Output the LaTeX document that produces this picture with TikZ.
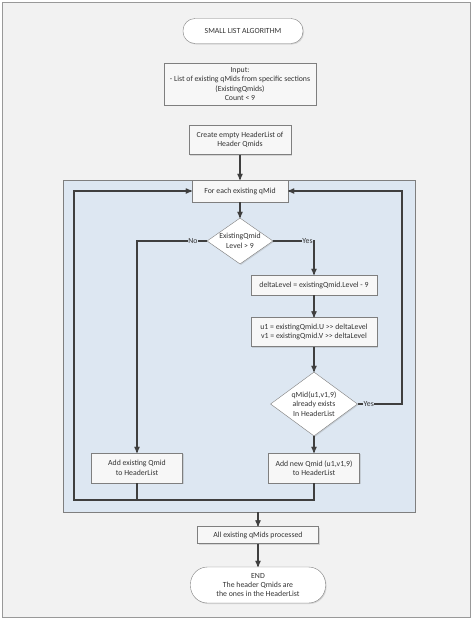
\documentclass[tikz,border=0pt]{standalone}
\usepackage{fontspec}
\setmainfont{Carlito}
\usepackage{xcolor}
\usepackage{tikz}
\usetikzlibrary{arrows}
\usetikzlibrary{positioning}
\usetikzlibrary{shapes.geometric}
\usetikzlibrary{shadows}

\definecolor{pagegray}{HTML}{F2F2F2}
\definecolor{loopblue}{HTML}{DDE7F2}
\definecolor{boxline}{HTML}{7F7F7F}
\definecolor{arrowgray}{HTML}{3F3F3F}

\begin{document}
\begin{tikzpicture}[x=1pt,y=-1pt,>=stealth',semithick]
 				 \tikzstyle{every node}=[font=\fontsize{7.8}{9.4}\selectfont, text=black!80]
 				 \tikzstyle{box}=[rectangle, draw=boxline, fill=white!97!black, thin, align=center, inner sep=1pt,
 				   drop shadow={shadow xshift=1pt, shadow yshift=-1pt, opacity=0.25}]
 				 \tikzstyle{term}=[box, rounded corners=12pt, fill=white]
 				 \tikzstyle{decision}=[diamond, draw=boxline, fill=white, thin, align=center, inner sep=0pt,
 				   drop shadow={shadow xshift=1pt, shadow yshift=-1pt, opacity=0.25}]
 				 \tikzstyle{flow}=[->, draw=arrowgray, line width=1.2pt]
 				 \tikzstyle{answer}=[fill=loopblue, inner sep=0.5pt, text=black!80]
 				 \useasboundingbox (0,0) rectangle (474,622);
 				 % page frame
 				 \draw[fill=pagegray, draw=black!40, line width=1pt] (2,2) rectangle (470,617);
 					 \node[term, minimum width=120pt, minimum height=25pt] (title) at (243,31) {SMALL LIST ALGORITHM};
 					 \node[box, minimum width=152pt, minimum height=42pt] (input) at (240,84)
 					   {Input:\\- List of existing qMids from specific sections\\(ExistingQmids)\\Count < 9};
 					 \node[box, minimum width=102pt, minimum height=29pt] (create) at (240,140)
 					   {Create empty HeaderList of\\Header Qmids};
 					 % loop region
 					 \node[rectangle, draw=boxline, fill=loopblue, thin, minimum width=352pt, minimum height=332pt,
 					   drop shadow={shadow xshift=1pt, shadow yshift=-1pt, opacity=0.25}] (loop) at (239,346) {};
 					 \node[box, minimum width=96pt, minimum height=22pt] (foreach) at (240,191) {For each existing qMid};
 					 \node[decision, aspect=1.45, minimum width=66pt, minimum height=46pt] (dec1) at (240,241)
 					   {ExistingQmid\\Level > 9};
 					 \node[box, minimum width=126pt, minimum height=20pt] (delta) at (314,285)
 					   {deltaLevel = existingQmid.Level - 9};
 					 \node[box, minimum width=126pt, minimum height=29pt] (uv) at (314,332)
 					   {u1 = existingQmid.U {>}{>} deltaLevel\\v1 = existingQmid.V {>}{>} deltaLevel};
 					 \node[decision, aspect=1.36, minimum width=87pt, minimum height=64pt] (dec2) at (314,404)
 					   {qMid(u1,v1,9)\\already exists\\In HeaderList};
 					 \node[box, minimum width=91pt, minimum height=30pt] (addold) at (137,468)
 					   {Add existing Qmid\\to HeaderList};
 					 \node[box, minimum width=91pt, minimum height=30pt] (addnew) at (314,468)
 					   {Add new Qmid (u1,v1,9)\\to HeaderList};
 					 \node[box, minimum width=121pt, minimum height=17pt] (done) at (258,535)
 					   {All existing qMids processed};
 					 \node[term, rounded corners=17pt, minimum width=135pt, minimum height=36pt] (finish) at (258,585)
 					   {END\\The header Qmids are\\the ones in the HeaderList};
 					 \coordinate (rloop) at (402,191);
 					 \coordinate (lloop) at (74,500);
 					  \path[flow]
 					  (create) edge (foreach)
 					  (foreach) edge (dec1)
 					  (delta) edge (uv)
 					  (uv) edge (dec2)
 					  (dec2) edge (addnew)
 					  (done) edge (finish);
 					  \draw[flow] (dec1.west) -| node[answer, pos=0.1] {No} (addold.north);
 					  \draw[flow] (dec1.east) -| node[answer, pos=0.42] {Yes} (delta.north);
 					  \draw[flow] (dec2.east) -- node[answer, pos=0.25] {Yes} (dec2.east -| rloop) -- (rloop) -- (foreach.east);
 					  \draw[flow, -] (addold.south) -- (addold.south |- lloop);
 					  \draw[flow] (addnew.south) |- (lloop) |- (foreach.west);
 					  \draw[flow] (loop.south -| done.north) -- (done.north);
				\end{tikzpicture}
\end{document}
